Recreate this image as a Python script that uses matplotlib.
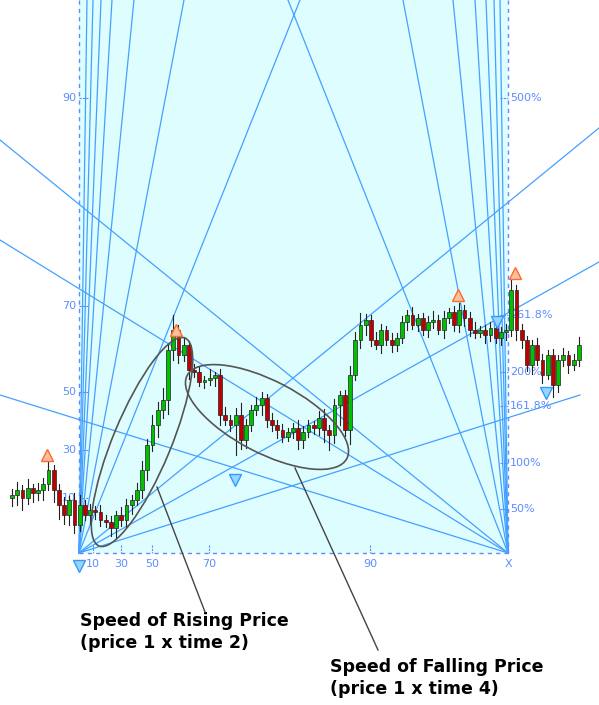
import matplotlib
matplotlib.use("Agg")
import matplotlib.pyplot as plt
from matplotlib.patches import Rectangle, Ellipse

# chart drawn in screen-like coordinates (y grows downward)
closes = [495,490,498,488,493,490,484,470,490,505,515,500,525,505,515,510,512,520,
          522,528,515,520,505,500,490,470,445,425,410,400,350,330,355,345,370,372,
          382,380,378,375,415,420,425,415,440,425,410,405,398,420,425,430,437,432,428,440,
          432,425,428,418,430,435,405,395,430,375,340,325,320,340,345,330,340,345,338,322,
          315,325,318,330,322,320,330,318,312,325,310,318,330,333,330,335,328,338,332,330,
          290,330,340,365,345,360,375,355,385,360,355,365,360,345]
wick_up = [6,8,5,9,4,7,6,14,5,6,8,4,7,10,5,6,4,7,5,6,4,8,6,5,7,9,6,10,8,12,6,15,5,8,4,6,
           5,4,9,3,6,8,5,7,12,6,5,8,6,4,7,5,6,4,5,8,6,5,4,7,9,5,6,4,5,9,8,12,6,5,8,6,4,7,5,6,
           5,8,4,5,6,9,5,7,4,6,7,5,6,8,4,5,6,7,5,6,10,5,6,4,5,7,6,5,6,5,7,4,6,8]
wick_dn = [8,10,12,6,9,7,10,6,12,14,9,10,8,6,5,9,7,6,5,8,10,6,7,9,5,8,10,6,12,8,14,10,8,6,9,5,
           4,6,5,8,10,5,6,30,9,8,6,5,10,7,6,8,5,4,6,9,8,5,6,7,12,15,8,20,6,14,5,8,10,6,4,8,5,7,6,5,
           8,4,6,5,7,6,4,8,5,6,7,8,6,5,4,8,6,5,7,8,6,10,8,6,9,5,8,4,12,7,6,8,5,6]
x0, dx = 12, 5.2

left_fan_ends = [(87,0),(93,0),(101,0),(112,0),(134,0),(184,0),(300,0),(599,128),(599,262),(580,395)]
right_fan_ends = [(500,0),(494,0),(486,0),(475,0),(453,0),(403,0),(288,0),(0,140),(0,240),(0,395)]
left_origin, right_origin = (79,553), (508,553)

left_labels = [("90",98),("70",306),("50",392),("30",450),("10",498)]
right_labels = [("500%",98),("261.8%",315),("200%",372),("161.8%",406),("100%",463),("50%",509)]
bottom_labels = [("10",93),("30",121),("50",152),("70",209),("90",370),("X",508)]
up_arrows = [(47,455),(176,330),(458,295),(515,273)]
down_arrows = [(235,480),(497,322),(546,393),(79,566)]

fig = plt.figure(figsize=(5.99,7.05), dpi=100)
ax = fig.add_axes([0,0,1,1])
ax.set_xlim(0,599); ax.set_ylim(705,0); ax.axis("off")

ax.add_patch(Rectangle((79,0),429,553,facecolor="#defdff",edgecolor="none",zorder=0))
tc = "#5c8cff"
ax.plot([79,79],[0,553],ls=(0,(3,3)),color=tc,lw=1,zorder=1)
ax.plot([508,508],[0,553],ls=(0,(3,3)),color=tc,lw=1,zorder=1)
ax.plot([79,508],[553,553],ls=(0,(3,3)),color=tc,lw=1,zorder=1)

for (ex,ey) in left_fan_ends:
    ax.plot([left_origin[0],ex],[left_origin[1],ey],color="#45a0ff",lw=0.9,zorder=2)
for (ex,ey) in right_fan_ends:
    ax.plot([right_origin[0],ex],[right_origin[1],ey],color="#45a0ff",lw=0.9,zorder=2)

for t,y in left_labels:
    ax.text(76,y,t,color=tc,fontsize=8,ha="right",va="center")
    ax.plot([79,88],[y,y],color=tc,lw=0.8,ls=(0,(2,1)))
for t,y in right_labels:
    ax.text(510,y,t,color=tc,fontsize=8,ha="left",va="center")
    ax.plot([500,508],[y,y],color=tc,lw=0.8,ls=(0,(2,1)))
for t,x in bottom_labels:
    ax.text(x,564,t,color=tc,fontsize=8,ha="center",va="center")
    ax.plot([x,x],[545,553],color=tc,lw=0.8,ls=(0,(2,1)))

prev = closes[0]+3
for i,c in enumerate(closes):
    x = x0+dx*i
    o = prev
    top, bot = min(o,c), max(o,c)
    ax.plot([x,x],[top-wick_up[i],bot+wick_dn[i]],color="#222222",lw=0.8,zorder=3)
    col = "#00c000" if c < o else "#c00000"
    ax.add_patch(Rectangle((x-1.9,top),3.8,max(bot-top,1),facecolor=col,edgecolor="#222222",lw=0.5,zorder=4))
    prev = c

for (x,y) in up_arrows:
    ax.plot(x,y,marker="^",color="#ff6a2a",ms=8,mfc="#ffc0a0",zorder=6)
for (x,y) in down_arrows:
    ax.plot(x,y,marker="v",color="#3399ff",ms=8,mfc="#99d4ff",zorder=6)

ax.add_patch(Ellipse((142,442),225,58,angle=-67.5,fill=False,edgecolor="#555555",lw=1.2,zorder=5))
ax.add_patch(Ellipse((267,417),180,72,angle=27.5,fill=False,edgecolor="#555555",lw=1.2,zorder=5))
ax.plot([157,205],[487,612],color="#444444",lw=1,zorder=5)
ax.plot([295,378],[468,650],color="#444444",lw=1,zorder=5)

ax.text(80,632,"Speed of Rising Price\n(price 1 x time 2)",fontsize=12.5,fontweight="bold",va="center",ha="left",linespacing=1.3)
ax.text(330,678,"Speed of Falling Price\n(price 1 x time 4)",fontsize=12.5,fontweight="bold",va="center",ha="left",linespacing=1.3)

fig.savefig("out.png",dpi=100)
